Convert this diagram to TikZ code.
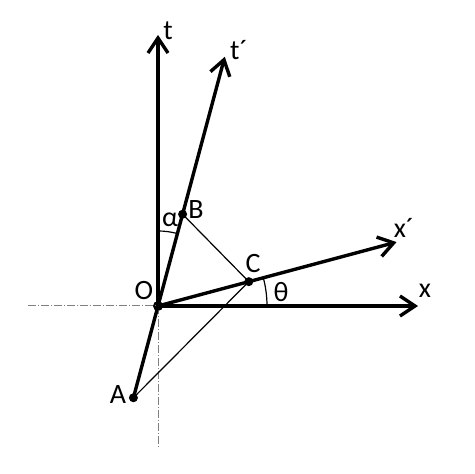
\documentclass[tikz,border=0pt]{standalone}
\usepackage{fontspec}
\setmainfont{Carlito}
\usetikzlibrary{arrows.meta,calc}

\begin{document}
\begin{tikzpicture}[x=0.5pt,y=0.5pt,
        axis/.style={line width=1.7pt,-{Straight Barb[length=7.5pt,width=10pt,line width=1.7pt]}},
        thinline/.style={line width=0.6pt},
        center/.style={gray,line width=0.5pt,dash pattern=on 4pt off 1pt on 0.5pt off 1pt},
        dot/.style={circle,fill,inner sep=0pt,minimum size=4.5pt},
        lbl/.style={font=\fontsize{14}{16}\selectfont}]
        \useasboundingbox (0,0) rectangle (474,474);
        \coordinate (O) at (158,168);
        \coordinate (tend) at (158,439);
        \coordinate (xend) at (418,168);
        \coordinate (tpend) at ($(O)+(75:258)$);
        \coordinate (xpend) at ($(O)+(15:247)$);
        \coordinate (cl) at (28,168);
        \coordinate (cb) at (158,26);
        \node[dot] (A) at ($(O)+(255:95)$) {};
        \node[dot] (B) at ($(O)+(75:95)$) {};
        \node[dot] (C) at ($(O)+(15:94)$) {};
        \node[dot,minimum size=5pt] (Oc) at (O) {};

        % center lines
        \draw[center] (cl) -- (O) -- (cb);
        %% axes
        \draw[axis] (O) -- (tend);
        \draw[axis] (O) -- (xend);
        \draw[axis] (A.center) -- (tpend);
        \draw[axis] (O) -- (xpend);
        \draw[thinline] (B.center) -- (C.center) -- (A.center);
        % angles
        \draw[thinline] ($(O)+(90:75)$) arc (90:75:75);
        \draw[thinline] ($(O)+(0:109)$) arc (0:15:109);

        % labelleds
        \node[lbl] (lt) at (168,443) {t};
        \node[lbl] (ltp) at (239,424) {t´};
        \node[lbl] (lx) at (425,183) {x};
        \node[lbl] (lxp) at (404,246) {x´};
        \node[lbl] (lO) at (144,183) {O};
        \node[lbl] (lA) at (118,79) {A};
        \node[lbl] (lB) at (196,264) {B};
        \node[lbl] (lC) at (253,210) {C};
        \node[lbl] (lal) at (170,254) {α};
        \node[lbl] (lth) at (281,182) {θ};
\end{tikzpicture}
\end{document}
